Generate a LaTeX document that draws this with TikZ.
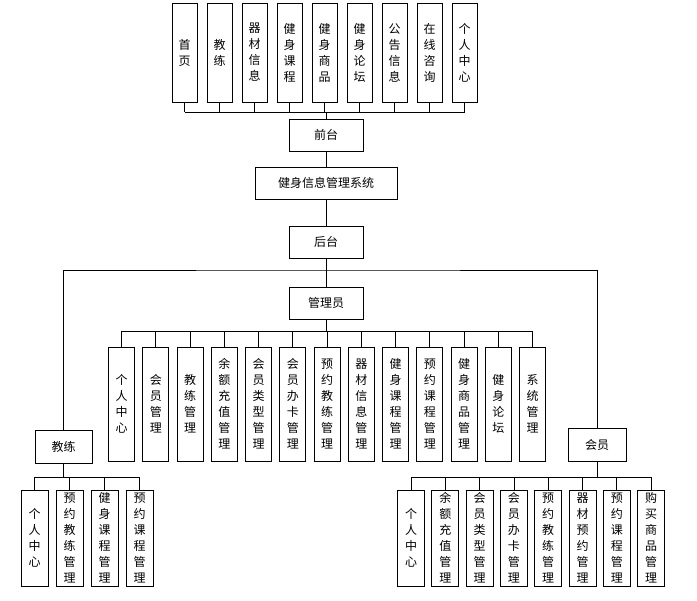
\documentclass[tikz,border=0pt]{standalone}
\usepackage{fontspec}
\newfontfamily\cjk{Noto Sans CJK SC}
\begin{document}
\begin{tikzpicture}[x=1pt,y=-1pt,
  box/.style={draw,line width=0.8pt,fill=white,inner sep=0pt,font=\cjk\fontsize{12}{16}\selectfont,align=center},
  vbox/.style={box,minimum width=26pt,minimum height=97pt},
  hbox/.style={box,minimum height=32pt},
  ln/.style={line width=0.8pt}]
\useasboundingbox (0,0) rectangle (697,601);
% top
\foreach \t [count=\i from 0] in {首\\页,教\\练,器\\材\\信\\息,健\\身\\课\\程,健\\身\\商\\品,健\\身\\论\\坛,公\\告\\信\\息,在\\线\\咨\\询,个\\人\\中\\心}{
  \node[vbox,minimum width=25pt,minimum height=99pt] (t\i) at (184.5+35*\i,52.5) {\t};
}
\node[hbox,minimum width=74pt] (qt) at (326,135) {前台};
\node[hbox,minimum width=142pt] (sys) at (326,183) {健身信息管理系统};
\node[hbox,minimum width=74pt] (ht) at (326,242) {后台};
\node[hbox,minimum width=74pt] (gly) at (326,303) {管理员};
\node[hbox,minimum width=57pt,minimum height=33pt] (jl) at (63.5,446.5) {教练};
\node[hbox,minimum width=58pt,minimum height=33pt] (hy) at (597,444.5) {会员};
\foreach \i in {0,...,8}{ \draw[ln] (t\i.south) -- (184.5+35*\i,112); }
\draw[ln] (t0.south |- 0,112) -- (t8.south |- 0,112);
\draw[ln] (326,112) -- (qt.north);
\draw[ln] (qt) -- (sys);
\draw[ln] (sys) -- (ht);
\draw[ln] (ht.south) -- (326,270);
\draw[ln] (jl.north) |- (326,270) -| (hy.north);
\draw[ln] (326,270) -- (gly.north);
% admin
\foreach \t [count=\i from 0] in {个\\人\\中\\心,会\\员\\管\\理,教\\练\\管\\理,余\\额\\充\\值\\管\\理,会\\员\\类\\型\\管\\理,会\\员\\办\\卡\\管\\理,预\\约\\教\\练\\管\\理,器\\材\\信\\息\\管\\理,健\\身\\课\\程\\管\\理,预\\约\\课\\程\\管\\理,健\\身\\商\\品\\管\\理,健\\身\\论\\坛,系\\统\\管\\理}{
  \node[vbox,minimum height=114pt] (a\i) at (121.5+34.25*\i,404) {\t};
  \draw[ln] (a\i.north) -- (121.5+34.25*\i,331);
}
\draw[ln] (121.5,331) -- (532.5,331);
\draw[ln] (gly.south) -- (326,331);
% coach
\foreach \t [count=\i from 0] in {个\\人\\中\\心,预\\约\\教\\练\\管\\理,健\\身\\课\\程\\管\\理,预\\约\\课\\程\\管\\理}{
  \node[vbox,minimum width=27pt,minimum height=96pt] (c\i) at (34.5+35*\i,538) {\t};
  \draw[ln] (c\i.north) -- (34.5+35*\i,477);
}
\draw[ln] (34.5,477) -- (139.5,477);
\draw[ln] (jl.south) -- (63.5,477);
% member
\foreach \t [count=\i from 0] in {个\\人\\中\\心,余\\额\\充\\值\\管\\理,会\\员\\类\\型\\管\\理,会\\员\\办\\卡\\管\\理,预\\约\\教\\练\\管\\理,器\\材\\预\\约\\管\\理,预\\约\\课\\程\\管\\理,购\\买\\商\\品\\管\\理}{
  \node[vbox,minimum width=27pt,minimum height=96pt] (m\i) at (411+34.3*\i,538) {\t};
  \draw[ln] (m\i.north) -- (411+34.3*\i,477);
}
\draw[ln] (411,477) -- (651.1,477);
\draw[ln] (hy.south) -- (597,477);
\end{tikzpicture}
\end{document}
